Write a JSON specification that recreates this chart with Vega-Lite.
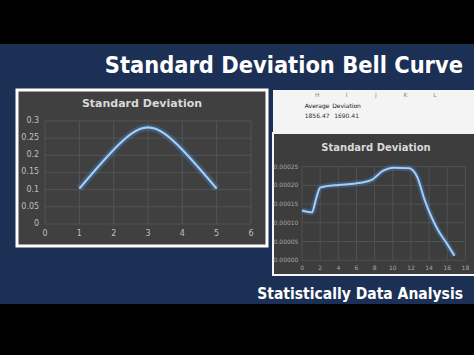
{
  "$schema": "https://vega.github.io/schema/vega-lite/v6.json",
  "background": "#1b3054",
  "padding": 0,
  "spacing": 10,
  "config": {
    "view": {"stroke": null},
    "font": "DejaVu Sans",
    "title": {"color": "#ffffff"}
  },
  "datasets": {
    "bell": [
      {"x": 1, "y": 0.103},
      {"x": 2, "y": 0.216},
      {"x": 3, "y": 0.281},
      {"x": 4, "y": 0.216},
      {"x": 5, "y": 0.103}
    ],
    "hgridL": [{"v": 0}, {"v": 0.05}, {"v": 0.1}, {"v": 0.15}, {"v": 0.2}, {"v": 0.25}, {"v": 0.3}],
    "vgridL": [{"v": 0}, {"v": 1}, {"v": 2}, {"v": 3}, {"v": 4}, {"v": 5}, {"v": 6}],
    "dev": [
      {"x": 0.0, "y": 0.000133},
      {"x": 0.5, "y": 0.000130},
      {"x": 1.1, "y": 0.000128},
      {"x": 1.5, "y": 0.000160},
      {"x": 2.0, "y": 0.000194},
      {"x": 2.7, "y": 0.000198},
      {"x": 4.0, "y": 0.000201},
      {"x": 5.9, "y": 0.000205},
      {"x": 7.6, "y": 0.000214},
      {"x": 9.0, "y": 0.000240},
      {"x": 10.0, "y": 0.000247},
      {"x": 11.8, "y": 0.000246},
      {"x": 12.7, "y": 0.000222},
      {"x": 13.5, "y": 0.000162},
      {"x": 14.9, "y": 0.000084},
      {"x": 16.0, "y": 0.000043},
      {"x": 16.8, "y": 0.000012}
    ],
    "hgridR": [{"v": 0}, {"v": 0.00005}, {"v": 0.0001}, {"v": 0.00015}, {"v": 0.0002}, {"v": 0.00025}],
    "vgridR": [{"v": 0}, {"v": 2}, {"v": 4}, {"v": 6}, {"v": 8}, {"v": 10}, {"v": 12}, {"v": 14}, {"v": 16}, {"v": 18}],
    "cells": [
      {"col": "H", "row": "0", "t": "H", "kind": "head"},
      {"col": "I", "row": "0", "t": "I", "kind": "head"},
      {"col": "J", "row": "0", "t": "J", "kind": "head"},
      {"col": "K", "row": "0", "t": "K", "kind": "head"},
      {"col": "L", "row": "0", "t": "L", "kind": "head"},
      {"col": "H", "row": "1", "t": "Average", "kind": "label"},
      {"col": "I", "row": "1", "t": "Deviation", "kind": "label"},
      {"col": "H", "row": "2", "t": "1856.47", "kind": "value"},
      {"col": "I", "row": "2", "t": "1690.41", "kind": "value"}
    ]
  },
  "vconcat": [
    {
      "width": 474,
      "height": 44,
      "view": {"fill": "#000000", "stroke": null},
      "data": {"values": [{"t": ""}]},
      "mark": {"type": "text"},
      "encoding": {"text": {"field": "t"}}
    },
    {
      "title": {
        "text": "Standard Deviation Bell Curve",
        "anchor": "end",
        "font": "DejaVu Sans Condensed",
        "fontSize": 23.4,
        "fontWeight": "bold",
        "color": "#ffffff",
        "dx": -17,
        "offset": 10
      },
      "spacing": 3,
      "hconcat": [
        {
          "width": 12,
          "height": 156,
          "data": {"values": [{"t": ""}]},
          "mark": {"type": "text"},
          "encoding": {"text": {"field": "t"}}
        },
        {
          "width": 250,
          "height": 156,
          "view": {"fill": "#404040", "stroke": "#ffffff", "strokeWidth": 3},
          "title": {
            "text": "Standard Deviation",
            "fontSize": 11,
            "fontWeight": "bold",
            "color": "#d9d9d9",
            "offset": -19
          },
          "layer": [
            {
              "data": {"name": "hgridL"},
              "mark": {"type": "rule", "color": "#595959", "strokeWidth": 0.8},
              "encoding": {
                "y": {"field": "v", "type": "quantitative", "scale": {"domain": [-0.064, 0.39], "nice": false, "zero": false}, "axis": null},
                "x": {"datum": 0, "type": "quantitative", "scale": {"domain": [-0.816, 6.466], "nice": false, "zero": false}, "axis": null},
                "x2": {"datum": 6}
              }
            },
            {
              "data": {"name": "vgridL"},
              "mark": {"type": "rule", "color": "#595959", "strokeWidth": 0.8},
              "encoding": {
                "x": {"field": "v", "type": "quantitative"},
                "y": {"datum": 0, "type": "quantitative"},
                "y2": {"datum": 0.3}
              }
            },
            {
              "data": {"name": "hgridL"},
              "mark": {"type": "text", "align": "right", "baseline": "middle", "fontSize": 8, "color": "#bfbfbf"},
              "encoding": {
                "y": {"field": "v", "type": "quantitative"},
                "x": {"datum": -0.17, "type": "quantitative"},
                "text": {"field": "v", "type": "quantitative", "format": "~g"}
              }
            },
            {
              "data": {"name": "vgridL"},
              "mark": {"type": "text", "align": "center", "baseline": "middle", "fontSize": 8, "color": "#bfbfbf"},
              "encoding": {
                "x": {"field": "v", "type": "quantitative"},
                "y": {"datum": -0.03, "type": "quantitative"},
                "text": {"field": "v", "type": "quantitative", "format": "d"}
              }
            },
            {
              "data": {"name": "bell"},
              "mark": {"type": "line", "interpolate": "natural", "color": "#3f86d6", "strokeWidth": 7, "opacity": 0.35},
              "encoding": {
                "x": {"field": "x", "type": "quantitative"},
                "y": {"field": "y", "type": "quantitative"}
              }
            },
            {
              "data": {"name": "bell"},
              "mark": {"type": "line", "interpolate": "natural", "color": "#a9cdf0", "strokeWidth": 2.2},
              "encoding": {
                "x": {"field": "x", "type": "quantitative"},
                "y": {"field": "y", "type": "quantitative"}
              }
            }
          ]
        },
        {
          "spacing": 0,
          "vconcat": [
            {
              "width": 206,
              "height": 42,
              "view": {"fill": "#f4f4f4", "stroke": null},
              "data": {"name": "cells"},
              "mark": {"type": "text", "fontSize": 6, "color": "#333333"},
              "encoding": {
                "x": {"field": "col", "type": "ordinal", "axis": null, "scale": {"domain": ["G", "H", "I", "J", "K", "L", "M"], "paddingOuter": 0}},
                "y": {"field": "row", "type": "ordinal", "axis": null, "scale": {"domain": ["0", "1", "2", "3"]}},
                "text": {"field": "t"},
                "color": {"field": "kind", "type": "nominal", "legend": null, "scale": {"domain": ["head", "label", "value"], "range": ["#888888", "#111111", "#333333"]}}
              }
            },
            {
              "width": 206,
              "height": 142,
              "view": {"fill": "#3d3d3d", "stroke": "#f4f4f4", "strokeWidth": 2},
              "title": {
                "text": "Standard Deviation",
                "fontSize": 10,
                "fontWeight": "bold",
                "color": "#d9d9d9",
                "offset": -20
              },
              "layer": [
                {
                  "data": {"name": "hgridR"},
                  "mark": {"type": "rule", "color": "#575757", "strokeWidth": 0.8},
                  "encoding": {
                    "y": {"field": "v", "type": "quantitative", "scale": {"domain": [-0.0000395, 0.00034], "nice": false, "zero": false}, "axis": null},
                    "x": {"datum": 0, "type": "quantitative", "scale": {"domain": [-3.2, 19.5], "nice": false, "zero": false}, "axis": null},
                    "x2": {"datum": 18}
                  }
                },
                {
                  "data": {"name": "vgridR"},
                  "mark": {"type": "rule", "color": "#575757", "strokeWidth": 0.8},
                  "encoding": {
                    "x": {"field": "v", "type": "quantitative"},
                    "y": {"datum": 0, "type": "quantitative"},
                    "y2": {"datum": 0.00025}
                  }
                },
                {
                  "data": {"name": "hgridR"},
                  "mark": {"type": "text", "align": "right", "baseline": "middle", "fontSize": 6, "color": "#a6a6a6"},
                  "encoding": {
                    "y": {"field": "v", "type": "quantitative"},
                    "x": {"datum": -0.4, "type": "quantitative"},
                    "text": {"field": "v", "type": "quantitative", "format": ".5f"}
                  }
                },
                {
                  "data": {"name": "vgridR"},
                  "mark": {"type": "text", "align": "center", "baseline": "middle", "fontSize": 6, "color": "#a6a6a6"},
                  "encoding": {
                    "x": {"field": "v", "type": "quantitative"},
                    "y": {"datum": -0.000022, "type": "quantitative"},
                    "text": {"field": "v", "type": "quantitative", "format": "d"}
                  }
                },
                {
                  "data": {"name": "dev"},
                  "mark": {"type": "line", "interpolate": "monotone", "color": "#3f86d6", "strokeWidth": 6, "opacity": 0.35},
                  "encoding": {
                    "x": {"field": "x", "type": "quantitative"},
                    "y": {"field": "y", "type": "quantitative"}
                  }
                },
                {
                  "data": {"name": "dev"},
                  "mark": {"type": "line", "interpolate": "monotone", "color": "#a9cdf0", "strokeWidth": 2},
                  "encoding": {
                    "x": {"field": "x", "type": "quantitative"},
                    "y": {"field": "y", "type": "quantitative"}
                  }
                }
              ]
            }
          ]
        }
      ]
    },
    {
      "width": 474,
      "height": 60,
      "view": {"fill": "#000000", "stroke": null},
      "title": {
        "text": "Statistically Data Analysis",
        "anchor": "end",
        "font": "DejaVu Sans Condensed",
        "fontSize": 15.5,
        "fontWeight": "bold",
        "color": "#ffffff",
        "dx": -11,
        "offset": 2
      },
      "data": {"values": [{"t": ""}]},
      "mark": {"type": "text"},
      "encoding": {"text": {"field": "t"}}
    }
  ]
}
